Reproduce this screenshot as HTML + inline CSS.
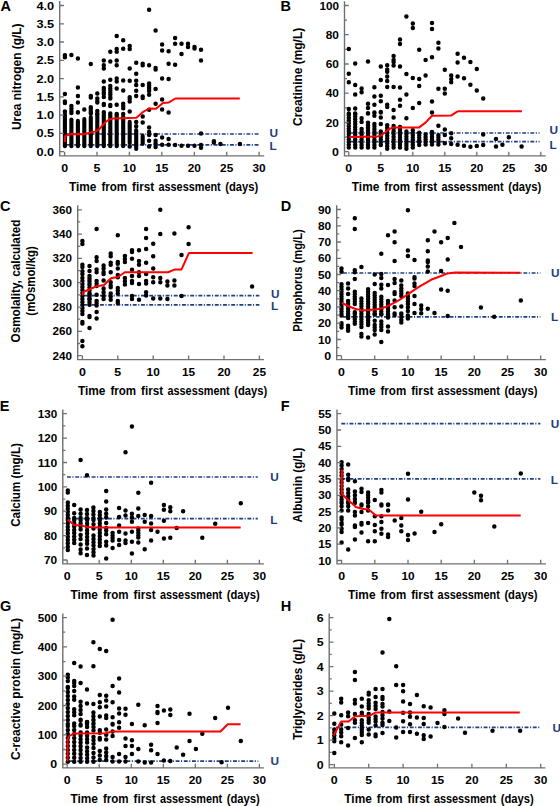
<!DOCTYPE html><html><head><meta charset="utf-8"><style>html,body{margin:0;padding:0;background:#fff;}svg{display:block;}</style></head><body>
<svg width="560" height="806" viewBox="0 0 560 806" font-family='"Liberation Sans", sans-serif'>
<rect width="560" height="806" fill="#fff"/>
<g><line x1="66.0" y1="134.0" x2="259.6" y2="134.0" stroke="#1f3f85" stroke-width="1.7" stroke-dasharray="3.9 1.5 1.1 1.7"/><text x="269.6" y="137.4" font-size="11.8" font-weight="bold" fill="#1d3c7c">U</text><line x1="66.0" y1="144.9" x2="259.6" y2="144.9" stroke="#1f3f85" stroke-width="1.7" stroke-dasharray="3.9 1.5 1.1 1.7"/><text x="269.6" y="150.0" font-size="11.8" font-weight="bold" fill="#1d3c7c">L</text><line x1="64.9" y1="114.0" x2="64.9" y2="146.2" stroke="#000" stroke-width="4.1" stroke-linecap="round"/><line x1="71.4" y1="119.6" x2="71.4" y2="146.2" stroke="#000" stroke-width="4.1" stroke-linecap="round"/><line x1="77.9" y1="120.9" x2="77.9" y2="146.2" stroke="#000" stroke-width="4.1" stroke-linecap="round"/><line x1="84.3" y1="119.0" x2="84.3" y2="146.2" stroke="#000" stroke-width="4.1" stroke-linecap="round"/><line x1="90.8" y1="117.1" x2="90.8" y2="146.2" stroke="#000" stroke-width="4.1" stroke-linecap="round"/><line x1="97.3" y1="114.0" x2="97.3" y2="146.2" stroke="#000" stroke-width="4.1" stroke-linecap="round"/><line x1="103.8" y1="114.0" x2="103.8" y2="146.2" stroke="#000" stroke-width="4.1" stroke-linecap="round"/><line x1="110.3" y1="115.2" x2="110.3" y2="146.2" stroke="#000" stroke-width="4.1" stroke-linecap="round"/><line x1="116.7" y1="115.2" x2="116.7" y2="146.2" stroke="#000" stroke-width="4.1" stroke-linecap="round"/><line x1="123.2" y1="116.5" x2="123.2" y2="146.2" stroke="#000" stroke-width="4.1" stroke-linecap="round"/><line x1="129.7" y1="121.9" x2="129.7" y2="143.1" stroke="#000" stroke-width="4.1" stroke-linecap="round"/><line x1="136.2" y1="130.0" x2="136.2" y2="149.0" stroke="#000" stroke-width="4.1" stroke-linecap="round"/><line x1="142.7" y1="135.9" x2="142.7" y2="143.8" stroke="#000" stroke-width="4.1" stroke-linecap="round"/><path d="M64.9 55.3h0M64.9 57.2h0M71.4 54.9h0M77.9 58.5h0M90.8 64.1h0M103.8 60.6h0M103.8 65.2h0M103.8 68.4h0M110.3 51.8h0M110.3 61.5h0M116.7 36.0h0M116.7 49.1h0M116.7 51.8h0M116.7 60.4h0M116.7 65.2h0M123.2 40.3h0M123.2 48.8h0M129.7 45.9h0M129.7 49.1h0M129.7 68.4h0M136.2 62.8h0M136.2 73.7h0M142.7 63.8h0M142.7 65.2h0M149.1 9.8h0M149.1 65.2h0M155.6 30.6h0M155.6 67.9h0M155.6 69.4h0M162.1 44.6h0M162.1 50.6h0M168.6 51.2h0M168.6 63.8h0M175.1 38.1h0M175.1 43.7h0M175.1 64.7h0M181.5 43.7h0M181.5 54.0h0M188.0 43.7h0M188.0 46.9h0M194.5 46.9h0M194.5 48.4h0M201.0 49.7h0M201.0 60.4h0M64.9 94.1h0M64.9 101.6h0M64.9 102.9h0M64.9 111.6h0M71.4 106.0h0M71.4 108.5h0M71.4 111.0h0M71.4 112.9h0M77.9 87.5h0M77.9 96.0h0M77.9 102.5h0M77.9 112.2h0M84.3 109.5h0M90.8 96.0h0M90.8 97.5h0M90.8 107.2h0M90.8 108.8h0M90.8 111.0h0M90.8 113.5h0M97.3 93.5h0M97.3 98.5h0M97.3 101.0h0M97.3 102.5h0M97.3 111.0h0M97.3 113.5h0M103.8 81.6h0M103.8 87.9h0M103.8 90.0h0M103.8 92.2h0M103.8 94.1h0M103.8 97.0h0M103.8 104.1h0M103.8 105.0h0M103.8 112.2h0M110.3 79.8h0M110.3 86.0h0M110.3 88.5h0M110.3 90.8h0M110.3 92.9h0M110.3 94.8h0M110.3 97.2h0M110.3 98.5h0M110.3 105.0h0M110.3 106.0h0M110.3 113.5h0M116.7 78.5h0M116.7 81.6h0M116.7 88.5h0M116.7 104.8h0M116.7 114.1h0M123.2 80.4h0M123.2 90.4h0M123.2 103.8h0M123.2 106.0h0M123.2 108.2h0M123.2 114.1h0M77.9 112.6h0M90.8 112.6h0M129.7 80.8h0M129.7 97.2h0M129.7 99.1h0M129.7 101.6h0M129.7 111.6h0M136.2 80.8h0M136.2 85.0h0M136.2 90.8h0M136.2 96.0h0M142.7 85.0h0M142.7 96.6h0M142.7 97.9h0M149.1 83.5h0M149.1 85.4h0M149.1 87.2h0M149.1 89.1h0M149.1 91.0h0M149.1 94.8h0M149.1 109.8h0M155.6 89.1h0M155.6 103.8h0M162.1 78.5h0M162.1 99.5h0M162.1 109.5h0M168.6 79.1h0M168.6 112.5h0M129.7 111.6h0M129.7 146.6h0M136.2 121.9h0M136.2 126.2h0M142.7 116.4h0M142.7 122.6h0M149.1 127.6h0M149.1 132.0h0M149.1 135.1h0M149.1 140.8h0M149.1 146.4h0M155.6 135.1h0M155.6 140.8h0M155.6 143.2h0M155.6 147.0h0M162.1 137.6h0M162.1 144.8h0M168.6 138.9h0M168.6 144.8h0M175.1 145.1h0M181.5 145.8h0M188.0 145.8h0M194.5 145.8h0M201.0 133.5h0M201.0 145.0h0M201.0 147.8h0M213.9 141.2h0M213.9 142.5h0M220.4 144.0h0M239.9 144.0h0" stroke="#000" stroke-width="4.5" stroke-linecap="round" fill="none"/><polyline points="64.9,142.0 64.9,136.5 66.5,135.5 71.5,134.0 83.5,134.2 88.0,133.2 95.5,131.4 99.0,129.5 105.0,122.5 109.2,119.5 113.0,118.6 136.4,117.8 142.4,112.4 149.1,108.5 156.0,108.8 162.9,102.9 168.5,102.6 175.4,98.5 239.8,98.5" fill="none" stroke="#ff0000" stroke-width="2.0" stroke-linejoin="round"/><path d="M59.7 1.0V155.9H264.2" fill="none" stroke="#707070" stroke-width="1.4"/><path d="M59.7 151.7h4.2M59.7 133.4h4.2M59.7 115.1h4.2M59.7 96.9h4.2M59.7 78.6h4.2M59.7 60.3h4.2M59.7 42.0h4.2M59.7 23.8h4.2M59.7 5.5h4.2M64.6 155.9v-4.2M97.0 155.9v-4.2M129.4 155.9v-4.2M161.8 155.9v-4.2M194.3 155.9v-4.2M226.7 155.9v-4.2M259.1 155.9v-4.2" stroke="#707070" stroke-width="1.3" fill="none"/><text x="54.1" y="155.7" font-size="11.2" font-weight="bold" text-anchor="end" textLength="17.7" lengthAdjust="spacingAndGlyphs">0.0</text><text x="54.1" y="137.4" font-size="11.2" font-weight="bold" text-anchor="end" textLength="17.7" lengthAdjust="spacingAndGlyphs">0.5</text><text x="54.1" y="119.1" font-size="11.2" font-weight="bold" text-anchor="end" textLength="17.7" lengthAdjust="spacingAndGlyphs">1.0</text><text x="54.1" y="100.9" font-size="11.2" font-weight="bold" text-anchor="end" textLength="17.7" lengthAdjust="spacingAndGlyphs">1.5</text><text x="54.1" y="82.6" font-size="11.2" font-weight="bold" text-anchor="end" textLength="17.7" lengthAdjust="spacingAndGlyphs">2.0</text><text x="54.1" y="64.3" font-size="11.2" font-weight="bold" text-anchor="end" textLength="17.7" lengthAdjust="spacingAndGlyphs">2.5</text><text x="54.1" y="46.0" font-size="11.2" font-weight="bold" text-anchor="end" textLength="17.7" lengthAdjust="spacingAndGlyphs">3.0</text><text x="54.1" y="27.8" font-size="11.2" font-weight="bold" text-anchor="end" textLength="17.7" lengthAdjust="spacingAndGlyphs">3.5</text><text x="54.1" y="9.5" font-size="11.2" font-weight="bold" text-anchor="end" textLength="17.7" lengthAdjust="spacingAndGlyphs">4.0</text><text x="64.6" y="172.1" font-size="11.2" font-weight="bold" text-anchor="middle" textLength="6.9" lengthAdjust="spacingAndGlyphs">0</text><text x="97.0" y="172.1" font-size="11.2" font-weight="bold" text-anchor="middle" textLength="6.9" lengthAdjust="spacingAndGlyphs">5</text><text x="129.4" y="172.1" font-size="11.2" font-weight="bold" text-anchor="middle" textLength="13.2" lengthAdjust="spacingAndGlyphs">10</text><text x="161.8" y="172.1" font-size="11.2" font-weight="bold" text-anchor="middle" textLength="13.2" lengthAdjust="spacingAndGlyphs">15</text><text x="194.3" y="172.1" font-size="11.2" font-weight="bold" text-anchor="middle" textLength="13.2" lengthAdjust="spacingAndGlyphs">20</text><text x="226.7" y="172.1" font-size="11.2" font-weight="bold" text-anchor="middle" textLength="13.2" lengthAdjust="spacingAndGlyphs">25</text><text x="259.1" y="172.1" font-size="11.2" font-weight="bold" text-anchor="middle" textLength="13.2" lengthAdjust="spacingAndGlyphs">30</text><text x="68.90" y="191.3" font-size="12" font-weight="bold" textLength="27.50" lengthAdjust="spacingAndGlyphs">Time</text><text x="101.40" y="191.3" font-size="12" font-weight="bold" textLength="25.70" lengthAdjust="spacingAndGlyphs">from</text><text x="132.10" y="191.3" font-size="12" font-weight="bold" textLength="22.10" lengthAdjust="spacingAndGlyphs">first</text><text x="158.50" y="191.3" font-size="12" font-weight="bold" textLength="62.20" lengthAdjust="spacingAndGlyphs">assessment</text><text x="225.30" y="191.3" font-size="12" font-weight="bold" textLength="33.00" lengthAdjust="spacingAndGlyphs">(days)</text><text transform="translate(20.9 76.7) rotate(-90)" font-size="12" font-weight="bold" text-anchor="middle" textLength="106.6" lengthAdjust="spacingAndGlyphs">Urea nitrogen (g/L)</text><text x="0.4" y="10.5" font-size="14.5" font-weight="bold">A</text></g>
<g><line x1="350.0" y1="133.0" x2="539.6" y2="133.0" stroke="#1f3f85" stroke-width="1.7" stroke-dasharray="3.9 1.5 1.1 1.7"/><text x="549.4" y="133.8" font-size="11.8" font-weight="bold" fill="#1d3c7c">U</text><line x1="350.0" y1="141.7" x2="539.6" y2="141.7" stroke="#1f3f85" stroke-width="1.7" stroke-dasharray="3.9 1.5 1.1 1.7"/><text x="549.4" y="149.3" font-size="11.8" font-weight="bold" fill="#1d3c7c">L</text><path d="M348.8 115.2h0M348.8 117.9h0M348.8 120.6h0M348.8 123.3h0M348.8 126.0h0M348.8 128.7h0M348.8 131.3h0M348.8 134.0h0M348.8 136.7h0M348.8 139.4h0M348.8 142.1h0M348.8 144.8h0M348.8 147.5h0M355.2 114.0h0M355.2 116.6h0M355.2 119.2h0M355.2 121.7h0M355.2 124.3h0M355.2 126.9h0M355.2 129.5h0M355.2 132.0h0M355.2 134.6h0M355.2 137.2h0M355.2 139.8h0M355.2 142.3h0M355.2 144.9h0M355.2 147.5h0M361.6 129.0h0M361.6 131.6h0M361.6 134.3h0M361.6 136.9h0M361.6 139.6h0M361.6 142.2h0M361.6 144.9h0M361.6 147.5h0M368.0 122.8h0M368.0 125.3h0M368.0 127.7h0M368.0 130.2h0M368.0 132.7h0M368.0 135.2h0M368.0 137.6h0M368.0 140.1h0M368.0 142.6h0M368.0 145.0h0M368.0 147.5h0M374.4 124.0h0M374.4 126.6h0M374.4 129.2h0M374.4 131.8h0M374.4 134.4h0M374.4 137.1h0M374.4 139.7h0M374.4 142.3h0M374.4 144.9h0M374.4 147.5h0M380.8 131.5h0M380.8 134.2h0M380.8 136.9h0M380.8 139.6h0M380.8 142.3h0M380.8 145.0h0M387.2 125.2h0M387.2 127.8h0M387.2 130.4h0M387.2 133.1h0M387.2 135.7h0M387.2 138.3h0M387.2 140.9h0M387.2 143.6h0M387.2 146.2h0M387.2 148.8h0M393.6 125.9h0M393.6 128.6h0M393.6 131.3h0M393.6 134.0h0M393.6 136.7h0M393.6 139.4h0M393.6 142.1h0M393.6 144.8h0M393.6 147.5h0M400.0 127.1h0M400.0 129.7h0M400.0 132.2h0M400.0 134.8h0M400.0 137.3h0M400.0 139.8h0M400.0 142.4h0M400.0 144.9h0M400.0 147.5h0M406.4 131.5h0M406.4 134.0h0M406.4 136.4h0M406.4 138.9h0M406.4 141.4h0M406.4 143.9h0M406.4 146.3h0M406.4 148.8h0M412.8 130.2h0M412.8 132.7h0M412.8 135.1h0M412.8 137.6h0M412.8 140.1h0M412.8 142.6h0M412.8 145.0h0M412.8 147.5h0M412.8 130.2h0M412.8 132.7h0M412.8 135.1h0M412.8 137.6h0M412.8 140.1h0M412.8 142.5h0M412.8 145.0h0M419.2 132.8h0M419.2 135.2h0M419.2 137.7h0M419.2 140.1h0M419.2 142.6h0M419.2 145.0h0M425.6 134.6h0M425.6 137.1h0M425.6 139.5h0M425.6 141.9h0M425.6 144.4h0M432.0 132.1h0M432.0 134.6h0M432.0 137.0h0M432.0 139.5h0M432.0 141.9h0M432.0 144.4h0M438.4 135.2h0M438.4 137.5h0M438.4 139.8h0M438.4 142.1h0M438.4 144.4h0" stroke="#000" stroke-width="4.5" stroke-linecap="round" fill="none"/><path d="M348.8 49.1h0M348.8 73.7h0M355.2 63.4h0M368.0 61.5h0M380.8 66.6h0M387.2 65.2h0M387.2 69.8h0M387.2 71.8h0M393.6 55.9h0M393.6 60.0h0M393.6 61.9h0M393.6 65.6h0M400.0 39.4h0M400.0 44.1h0M400.0 66.6h0M406.4 16.5h0M406.4 74.1h0M412.8 23.4h0M412.8 28.1h0M419.2 49.7h0M425.6 60.0h0M425.6 75.4h0M432.0 22.9h0M432.0 29.1h0M432.0 57.2h0M438.4 42.8h0M438.4 48.4h0M444.8 69.8h0M451.2 75.4h0M457.6 53.8h0M457.6 62.4h0M464.0 57.8h0M470.4 61.9h0M476.8 69.0h0M348.8 82.2h0M348.8 109.1h0M348.8 113.5h0M355.2 85.0h0M355.2 94.5h0M355.2 108.5h0M355.2 113.5h0M361.6 88.5h0M361.6 92.2h0M368.0 103.8h0M368.0 107.9h0M368.0 113.5h0M374.4 87.2h0M374.4 96.6h0M374.4 104.8h0M374.4 112.9h0M380.8 80.0h0M380.8 95.8h0M380.8 101.2h0M380.8 112.5h0M387.2 76.6h0M387.2 81.0h0M387.2 87.0h0M387.2 104.8h0M387.2 107.0h0M393.6 87.0h0M393.6 110.0h0M400.0 87.5h0M400.0 99.8h0M400.0 105.8h0M406.4 94.5h0M412.8 77.9h0M412.8 107.9h0M361.6 118.2h0M361.6 122.0h0M368.0 113.2h0M374.4 112.6h0M374.4 115.8h0M380.8 112.0h0M380.8 117.6h0M380.8 123.9h0M393.6 117.6h0M406.4 118.2h0M419.2 79.1h0M419.2 86.0h0M419.2 102.9h0M432.0 101.6h0M432.0 112.5h0M438.4 88.8h0M444.8 88.8h0M444.8 93.5h0M451.2 79.1h0M451.2 82.2h0M457.6 76.6h0M464.0 78.2h0M470.4 84.8h0M476.8 90.4h0M483.2 98.5h0M438.4 125.8h0M444.8 129.5h0M444.8 135.1h0M444.8 143.2h0M451.2 133.2h0M451.2 138.2h0M451.2 143.9h0M457.6 144.8h0M464.0 145.8h0M470.4 146.8h0M476.8 146.0h0M483.2 134.4h0M483.2 145.0h0M496.0 139.0h0M496.0 146.5h0M502.4 144.8h0M508.8 137.2h0M521.6 146.5h0" stroke="#000" stroke-width="4.5" stroke-linecap="round" fill="none"/><polyline points="349.4,137.0 377.5,136.4 381.0,135.5 385.0,132.5 389.0,129.0 393.8,127.4 419.2,127.4 425.5,122.6 432.0,115.8 451.0,115.6 456.8,111.8 458.0,111.3 521.9,111.3" fill="none" stroke="#ff0000" stroke-width="2.0" stroke-linejoin="round"/><path d="M344.5 1.3V155.9H545.7" fill="none" stroke="#707070" stroke-width="1.4"/><path d="M344.5 151.7h4.2M344.5 122.5h4.2M344.5 93.2h4.2M344.5 64.0h4.2M344.5 34.7h4.2M344.5 5.5h4.2M344.5 137.1h2.5M344.5 107.8h2.5M344.5 78.6h2.5M344.5 49.4h2.5M344.5 20.1h2.5M348.8 155.9v-4.2M380.8 155.9v-4.2M412.8 155.9v-4.2M444.8 155.9v-4.2M476.8 155.9v-4.2M508.8 155.9v-4.2M540.8 155.9v-4.2" stroke="#707070" stroke-width="1.3" fill="none"/><text x="338.9" y="155.7" font-size="11.2" font-weight="bold" text-anchor="end" textLength="6.9" lengthAdjust="spacingAndGlyphs">0</text><text x="338.9" y="126.5" font-size="11.2" font-weight="bold" text-anchor="end" textLength="13.2" lengthAdjust="spacingAndGlyphs">20</text><text x="338.9" y="97.2" font-size="11.2" font-weight="bold" text-anchor="end" textLength="13.2" lengthAdjust="spacingAndGlyphs">40</text><text x="338.9" y="68.0" font-size="11.2" font-weight="bold" text-anchor="end" textLength="13.2" lengthAdjust="spacingAndGlyphs">60</text><text x="338.9" y="38.7" font-size="11.2" font-weight="bold" text-anchor="end" textLength="13.2" lengthAdjust="spacingAndGlyphs">80</text><text x="338.9" y="9.5" font-size="11.2" font-weight="bold" text-anchor="end" textLength="19.5" lengthAdjust="spacingAndGlyphs">100</text><text x="348.8" y="172.1" font-size="11.2" font-weight="bold" text-anchor="middle" textLength="6.9" lengthAdjust="spacingAndGlyphs">0</text><text x="380.8" y="172.1" font-size="11.2" font-weight="bold" text-anchor="middle" textLength="6.9" lengthAdjust="spacingAndGlyphs">5</text><text x="412.8" y="172.1" font-size="11.2" font-weight="bold" text-anchor="middle" textLength="13.2" lengthAdjust="spacingAndGlyphs">10</text><text x="444.8" y="172.1" font-size="11.2" font-weight="bold" text-anchor="middle" textLength="13.2" lengthAdjust="spacingAndGlyphs">15</text><text x="476.8" y="172.1" font-size="11.2" font-weight="bold" text-anchor="middle" textLength="13.2" lengthAdjust="spacingAndGlyphs">20</text><text x="508.8" y="172.1" font-size="11.2" font-weight="bold" text-anchor="middle" textLength="13.2" lengthAdjust="spacingAndGlyphs">25</text><text x="540.8" y="172.1" font-size="11.2" font-weight="bold" text-anchor="middle" textLength="13.2" lengthAdjust="spacingAndGlyphs">30</text><text x="351.80" y="191.3" font-size="12" font-weight="bold" textLength="27.50" lengthAdjust="spacingAndGlyphs">Time</text><text x="384.30" y="191.3" font-size="12" font-weight="bold" textLength="25.70" lengthAdjust="spacingAndGlyphs">from</text><text x="415.00" y="191.3" font-size="12" font-weight="bold" textLength="22.10" lengthAdjust="spacingAndGlyphs">first</text><text x="441.40" y="191.3" font-size="12" font-weight="bold" textLength="62.20" lengthAdjust="spacingAndGlyphs">assessment</text><text x="508.20" y="191.3" font-size="12" font-weight="bold" textLength="33.00" lengthAdjust="spacingAndGlyphs">(days)</text><text transform="translate(302.2 76.9) rotate(-90)" font-size="12" font-weight="bold" text-anchor="middle" textLength="98.2" lengthAdjust="spacingAndGlyphs">Creatinine (mg/L)</text><text x="280.4" y="10.5" font-size="14.5" font-weight="bold">B</text></g>
<g><line x1="83.6" y1="295.6" x2="259.4" y2="295.6" stroke="#1f3f85" stroke-width="1.7" stroke-dasharray="3.9 1.5 1.1 1.7"/><text x="271.0" y="298.2" font-size="11.8" font-weight="bold" fill="#1d3c7c">U</text><line x1="83.6" y1="304.8" x2="259.4" y2="304.8" stroke="#1f3f85" stroke-width="1.7" stroke-dasharray="3.9 1.5 1.1 1.7"/><text x="271.0" y="310.3" font-size="11.8" font-weight="bold" fill="#1d3c7c">L</text><path d="M82.4 278.0h0M82.4 281.0h0M82.4 284.0h0M82.4 287.0h0M82.4 290.0h0M82.4 293.0h0M82.4 296.0h0M82.4 299.0h0M82.4 302.0h0M82.4 305.0h0M82.4 308.0h0M82.4 311.0h0M82.4 314.0h0M89.5 278.0h0M89.5 281.0h0M89.5 284.0h0M124.9 278.0h0M124.9 281.3h0M124.9 284.6h0M89.5 276.0h0M89.5 278.9h0M89.5 281.8h0M89.5 284.7h0M89.5 287.6h0M89.5 290.4h0M89.5 293.3h0M89.5 296.2h0M89.5 299.1h0M89.5 302.0h0" stroke="#000" stroke-width="4.5" stroke-linecap="round" fill="none"/><path d="M82.4 240.9h0M82.4 244.1h0M82.4 264.7h0M82.4 267.1h0M82.4 271.2h0M82.4 274.1h0M89.5 266.0h0M89.5 270.9h0M96.6 229.1h0M96.6 257.2h0M96.6 260.9h0M96.6 269.4h0M96.6 272.2h0M103.6 265.6h0M103.6 268.4h0M103.6 272.2h0M103.6 274.1h0M110.7 253.4h0M110.7 256.2h0M110.7 262.8h0M110.7 264.7h0M110.7 272.2h0M117.8 235.2h0M117.8 261.9h0M117.8 263.8h0M117.8 268.4h0M117.8 275.0h0M124.9 255.9h0M124.9 259.1h0M124.9 261.9h0M132.0 250.2h0M132.0 252.1h0M132.0 258.7h0M132.0 269.8h0M139.0 250.2h0M139.0 260.9h0M139.0 264.7h0M139.0 272.2h0M146.1 229.1h0M146.1 237.9h0M146.1 249.1h0M146.1 262.8h0M146.1 274.1h0M153.2 243.7h0M153.2 256.2h0M153.2 268.4h0M160.3 209.8h0M160.3 234.1h0M174.4 233.4h0M181.5 254.9h0M188.6 227.2h0M188.6 244.1h0M89.5 294.8h0M89.5 299.1h0M89.5 304.8h0M89.5 316.0h0M96.6 281.0h0M96.6 283.5h0M96.6 286.0h0M96.6 294.8h0M96.6 301.0h0M96.6 302.9h0M96.6 305.4h0M96.6 312.0h0M103.6 280.4h0M103.6 288.5h0M103.6 292.2h0M103.6 296.0h0M103.6 299.1h0M110.7 282.2h0M110.7 285.4h0M110.7 287.2h0M110.7 293.5h0M110.7 296.6h0M110.7 299.8h0M117.8 277.2h0M117.8 287.9h0M117.8 290.4h0M117.8 293.5h0M117.8 301.0h0M117.8 302.9h0M132.0 276.0h0M132.0 281.0h0M132.0 282.9h0M132.0 296.0h0M132.0 299.1h0M139.0 276.0h0M139.0 284.1h0M139.0 299.8h0M146.1 281.0h0M146.1 283.5h0M146.1 292.2h0M146.1 295.4h0M82.4 322.1h0M82.4 323.4h0M82.4 340.9h0M82.4 346.2h0M89.5 317.1h0M89.5 328.0h0M96.6 318.4h0M153.2 277.2h0M153.2 282.2h0M153.2 298.5h0M160.3 277.9h0M160.3 282.2h0M160.3 298.5h0M167.4 281.6h0M167.4 285.4h0M167.4 299.1h0M174.4 280.4h0M174.4 285.4h0M181.5 296.0h0M252.1 286.4h0" stroke="#000" stroke-width="4.5" stroke-linecap="round" fill="none"/><polyline points="82.8,295.4 82.8,292.2 89.2,289.5 96.8,286.2 104.2,285.0 109.0,280.0 111.8,277.9 118.0,277.0 124.9,272.2 168.0,272.2 174.6,269.6 181.4,269.6 189.0,252.9 252.6,252.9" fill="none" stroke="#ff0000" stroke-width="2.0" stroke-linejoin="round"/><path d="M77.7 205.2V359.6H263.9" fill="none" stroke="#707070" stroke-width="1.4"/><path d="M77.7 355.7h4.2M77.7 331.4h4.2M77.7 307.1h4.2M77.7 282.7h4.2M77.7 258.4h4.2M77.7 234.1h4.2M77.7 209.8h4.2M77.7 343.5h2.5M77.7 319.2h2.5M77.7 294.9h2.5M77.7 270.6h2.5M77.7 246.3h2.5M77.7 221.9h2.5M82.4 359.6v-4.2M117.8 359.6v-4.2M153.2 359.6v-4.2M188.6 359.6v-4.2M224.0 359.6v-4.2M259.4 359.6v-4.2" stroke="#707070" stroke-width="1.3" fill="none"/><text x="72.1" y="359.7" font-size="11.2" font-weight="bold" text-anchor="end" textLength="19.5" lengthAdjust="spacingAndGlyphs">240</text><text x="72.1" y="335.4" font-size="11.2" font-weight="bold" text-anchor="end" textLength="19.5" lengthAdjust="spacingAndGlyphs">260</text><text x="72.1" y="311.1" font-size="11.2" font-weight="bold" text-anchor="end" textLength="19.5" lengthAdjust="spacingAndGlyphs">280</text><text x="72.1" y="286.7" font-size="11.2" font-weight="bold" text-anchor="end" textLength="19.5" lengthAdjust="spacingAndGlyphs">300</text><text x="72.1" y="262.4" font-size="11.2" font-weight="bold" text-anchor="end" textLength="19.5" lengthAdjust="spacingAndGlyphs">320</text><text x="72.1" y="238.1" font-size="11.2" font-weight="bold" text-anchor="end" textLength="19.5" lengthAdjust="spacingAndGlyphs">340</text><text x="72.1" y="213.8" font-size="11.2" font-weight="bold" text-anchor="end" textLength="19.5" lengthAdjust="spacingAndGlyphs">360</text><text x="82.4" y="375.8" font-size="11.2" font-weight="bold" text-anchor="middle" textLength="6.9" lengthAdjust="spacingAndGlyphs">0</text><text x="117.8" y="375.8" font-size="11.2" font-weight="bold" text-anchor="middle" textLength="6.9" lengthAdjust="spacingAndGlyphs">5</text><text x="153.2" y="375.8" font-size="11.2" font-weight="bold" text-anchor="middle" textLength="13.2" lengthAdjust="spacingAndGlyphs">10</text><text x="188.6" y="375.8" font-size="11.2" font-weight="bold" text-anchor="middle" textLength="13.2" lengthAdjust="spacingAndGlyphs">15</text><text x="224.0" y="375.8" font-size="11.2" font-weight="bold" text-anchor="middle" textLength="13.2" lengthAdjust="spacingAndGlyphs">20</text><text x="259.4" y="375.8" font-size="11.2" font-weight="bold" text-anchor="middle" textLength="13.2" lengthAdjust="spacingAndGlyphs">25</text><text x="77.90" y="395.3" font-size="12" font-weight="bold" textLength="27.50" lengthAdjust="spacingAndGlyphs">Time</text><text x="110.40" y="395.3" font-size="12" font-weight="bold" textLength="25.70" lengthAdjust="spacingAndGlyphs">from</text><text x="141.10" y="395.3" font-size="12" font-weight="bold" textLength="22.10" lengthAdjust="spacingAndGlyphs">first</text><text x="167.50" y="395.3" font-size="12" font-weight="bold" textLength="62.20" lengthAdjust="spacingAndGlyphs">assessment</text><text x="234.30" y="395.3" font-size="12" font-weight="bold" textLength="33.00" lengthAdjust="spacingAndGlyphs">(days)</text><text transform="translate(20.3 281.0) rotate(-90)" font-size="12" font-weight="bold" text-anchor="middle" textLength="122.9" lengthAdjust="spacingAndGlyphs">Osmolality, calculated</text><text transform="translate(34.8 281.0) rotate(-90)" font-size="12" font-weight="bold" text-anchor="middle" textLength="69.3" lengthAdjust="spacingAndGlyphs">(mOsmol/kg)</text><text x="0.0" y="210.8" font-size="14.5" font-weight="bold">C</text></g>
<g><line x1="343.0" y1="273.0" x2="540.4" y2="273.0" stroke="#1f3f85" stroke-width="1.7" stroke-dasharray="3.9 1.5 1.1 1.7"/><text x="550.9" y="276.6" font-size="11.8" font-weight="bold" fill="#1d3c7c">U</text><line x1="343.0" y1="316.9" x2="540.4" y2="316.9" stroke="#1f3f85" stroke-width="1.7" stroke-dasharray="3.9 1.5 1.1 1.7"/><text x="550.9" y="321.3" font-size="11.8" font-weight="bold" fill="#1d3c7c">L</text><path d="M341.5 284.2h0M341.5 286.7h0M341.5 289.2h0M341.5 291.6h0M341.5 294.1h0M341.5 296.6h0M341.5 299.1h0M341.5 301.6h0M341.5 304.1h0M341.5 306.6h0M341.5 309.0h0M341.5 311.5h0M341.5 314.0h0M348.1 301.1h0M348.1 303.7h0M348.1 306.3h0M348.1 308.8h0M348.1 311.4h0M348.1 314.0h0M354.8 291.8h0M354.8 294.2h0M354.8 296.7h0M354.8 299.1h0M354.8 301.6h0M354.8 304.0h0M361.4 298.6h0M361.4 301.2h0M361.4 303.7h0M361.4 306.3h0M361.4 308.9h0M361.4 311.4h0M361.4 314.0h0M368.1 289.2h0M368.1 291.7h0M368.1 294.2h0M368.1 296.6h0M368.1 299.1h0M368.1 301.6h0M368.1 304.1h0M368.1 306.6h0M368.1 309.0h0M368.1 311.5h0M368.1 314.0h0M374.7 293.0h0M374.7 295.3h0M374.7 297.7h0M374.7 300.0h0M374.7 302.3h0M374.7 304.7h0M374.7 307.0h0M374.7 309.3h0M374.7 311.7h0M374.7 314.0h0M381.3 296.8h0M381.3 299.3h0M381.3 301.7h0M381.3 304.2h0M381.3 306.6h0M381.3 309.1h0M381.3 311.5h0M381.3 314.0h0M388.0 301.1h0M388.0 303.7h0M388.0 306.3h0M388.0 308.8h0M388.0 311.4h0M388.0 314.0h0M341.5 314.0h0M341.5 315.6h0M348.1 314.0h0M348.1 316.1h0M348.1 318.1h0M354.8 314.0h0M354.8 316.4h0M354.8 318.9h0M354.8 321.4h0M354.8 323.8h0M361.4 314.0h0M361.4 316.6h0M361.4 319.2h0M361.4 321.7h0M361.4 324.3h0M361.4 326.9h0M368.1 314.0h0M368.1 316.2h0M368.1 318.4h0M368.1 320.6h0M368.1 322.8h0M368.1 325.0h0" stroke="#000" stroke-width="4.5" stroke-linecap="round" fill="none"/><path d="M341.5 268.4h0M341.5 271.8h0M354.8 218.2h0M354.8 229.1h0M354.8 270.3h0M354.8 272.2h0M361.4 266.9h0M374.7 274.6h0M381.3 253.8h0M381.3 274.1h0M388.0 235.2h0M394.6 231.5h0M394.6 242.2h0M394.6 260.9h0M407.9 210.3h0M407.9 250.6h0M407.9 255.9h0M414.5 260.0h0M427.8 240.3h0M427.8 251.2h0M427.8 260.4h0M427.8 261.9h0M427.8 266.6h0M427.8 271.6h0M434.5 231.5h0M441.1 242.2h0M441.1 270.9h0M447.7 237.9h0M447.7 259.6h0M454.4 222.9h0M461.0 246.9h0M348.1 283.5h0M348.1 288.5h0M348.1 294.1h0M354.8 279.1h0M354.8 312.2h0M374.7 284.1h0M381.3 277.9h0M381.3 284.8h0M381.3 288.5h0M388.0 285.0h0M394.6 279.1h0M394.6 282.9h0M394.6 292.2h0M394.6 294.1h0M394.6 300.4h0M394.6 307.2h0M394.6 313.5h0M401.3 280.4h0M401.3 285.4h0M401.3 288.5h0M401.3 291.0h0M401.3 293.5h0M401.3 296.0h0M401.3 306.6h0M401.3 313.5h0M407.9 293.5h0M407.9 296.6h0M407.9 299.1h0M407.9 301.6h0M407.9 304.1h0M407.9 307.2h0M407.9 311.0h0M341.5 323.2h0M341.5 325.1h0M341.5 327.6h0M348.1 325.8h0M348.1 328.2h0M348.1 330.8h0M361.4 333.9h0M361.4 336.4h0M368.1 337.6h0M374.7 314.5h0M374.7 320.8h0M374.7 325.1h0M374.7 327.6h0M374.7 330.1h0M374.7 334.5h0M381.3 314.5h0M381.3 321.4h0M381.3 324.5h0M381.3 327.0h0M381.3 330.1h0M381.3 342.0h0M388.0 315.1h0M388.0 317.6h0M388.0 326.4h0M388.0 331.4h0M394.6 315.1h0M401.3 314.5h0M401.3 317.0h0M401.3 320.1h0M401.3 322.6h0M407.9 316.4h0M414.5 277.2h0M414.5 278.5h0M414.5 283.5h0M414.5 286.0h0M414.5 296.0h0M414.5 304.1h0M414.5 312.9h0M421.2 305.4h0M421.2 309.1h0M421.2 313.2h0M427.8 308.8h0M434.5 312.9h0M441.1 289.5h0M447.7 290.8h0M447.7 316.0h0M407.9 315.5h0M407.9 318.6h0M421.2 313.2h0M480.9 307.6h0M494.2 316.8h0M520.8 300.4h0" stroke="#000" stroke-width="4.5" stroke-linecap="round" fill="none"/><polyline points="341.8,302.9 348.0,306.0 354.9,308.8 361.8,310.4 369.2,310.0 375.5,309.5 383.0,307.9 389.2,305.4 395.5,302.2 401.8,298.5 408.0,294.1 418.5,287.2 431.0,279.8 441.0,276.0 447.5,273.4 455.0,272.6 520.4,272.7" fill="none" stroke="#ff0000" stroke-width="2.0" stroke-linejoin="round"/><path d="M336.7 205.2V359.6H545.9" fill="none" stroke="#707070" stroke-width="1.4"/><path d="M336.7 355.7h4.2M336.7 339.5h4.2M336.7 323.2h4.2M336.7 307.0h4.2M336.7 290.7h4.2M336.7 274.5h4.2M336.7 258.3h4.2M336.7 242.0h4.2M336.7 225.8h4.2M336.7 209.5h4.2M336.7 347.6h2.5M336.7 331.3h2.5M336.7 315.1h2.5M336.7 298.9h2.5M336.7 282.6h2.5M336.7 266.4h2.5M336.7 250.1h2.5M336.7 233.9h2.5M336.7 217.7h2.5M341.5 359.6v-4.2M374.7 359.6v-4.2M407.9 359.6v-4.2M441.1 359.6v-4.2M474.3 359.6v-4.2M507.5 359.6v-4.2M540.7 359.6v-4.2" stroke="#707070" stroke-width="1.3" fill="none"/><text x="331.1" y="359.7" font-size="11.2" font-weight="bold" text-anchor="end" textLength="6.9" lengthAdjust="spacingAndGlyphs">0</text><text x="331.1" y="343.5" font-size="11.2" font-weight="bold" text-anchor="end" textLength="13.2" lengthAdjust="spacingAndGlyphs">10</text><text x="331.1" y="327.2" font-size="11.2" font-weight="bold" text-anchor="end" textLength="13.2" lengthAdjust="spacingAndGlyphs">20</text><text x="331.1" y="311.0" font-size="11.2" font-weight="bold" text-anchor="end" textLength="13.2" lengthAdjust="spacingAndGlyphs">30</text><text x="331.1" y="294.7" font-size="11.2" font-weight="bold" text-anchor="end" textLength="13.2" lengthAdjust="spacingAndGlyphs">40</text><text x="331.1" y="278.5" font-size="11.2" font-weight="bold" text-anchor="end" textLength="13.2" lengthAdjust="spacingAndGlyphs">50</text><text x="331.1" y="262.3" font-size="11.2" font-weight="bold" text-anchor="end" textLength="13.2" lengthAdjust="spacingAndGlyphs">60</text><text x="331.1" y="246.0" font-size="11.2" font-weight="bold" text-anchor="end" textLength="13.2" lengthAdjust="spacingAndGlyphs">70</text><text x="331.1" y="229.8" font-size="11.2" font-weight="bold" text-anchor="end" textLength="13.2" lengthAdjust="spacingAndGlyphs">80</text><text x="331.1" y="213.5" font-size="11.2" font-weight="bold" text-anchor="end" textLength="13.2" lengthAdjust="spacingAndGlyphs">90</text><text x="341.5" y="375.8" font-size="11.2" font-weight="bold" text-anchor="middle" textLength="6.9" lengthAdjust="spacingAndGlyphs">0</text><text x="374.7" y="375.8" font-size="11.2" font-weight="bold" text-anchor="middle" textLength="6.9" lengthAdjust="spacingAndGlyphs">5</text><text x="407.9" y="375.8" font-size="11.2" font-weight="bold" text-anchor="middle" textLength="13.2" lengthAdjust="spacingAndGlyphs">10</text><text x="441.1" y="375.8" font-size="11.2" font-weight="bold" text-anchor="middle" textLength="13.2" lengthAdjust="spacingAndGlyphs">15</text><text x="474.3" y="375.8" font-size="11.2" font-weight="bold" text-anchor="middle" textLength="13.2" lengthAdjust="spacingAndGlyphs">20</text><text x="507.5" y="375.8" font-size="11.2" font-weight="bold" text-anchor="middle" textLength="13.2" lengthAdjust="spacingAndGlyphs">25</text><text x="540.7" y="375.8" font-size="11.2" font-weight="bold" text-anchor="middle" textLength="13.2" lengthAdjust="spacingAndGlyphs">30</text><text x="348.00" y="395.3" font-size="12" font-weight="bold" textLength="27.50" lengthAdjust="spacingAndGlyphs">Time</text><text x="380.50" y="395.3" font-size="12" font-weight="bold" textLength="25.70" lengthAdjust="spacingAndGlyphs">from</text><text x="411.20" y="395.3" font-size="12" font-weight="bold" textLength="22.10" lengthAdjust="spacingAndGlyphs">first</text><text x="437.60" y="395.3" font-size="12" font-weight="bold" textLength="62.20" lengthAdjust="spacingAndGlyphs">assessment</text><text x="504.40" y="395.3" font-size="12" font-weight="bold" textLength="33.00" lengthAdjust="spacingAndGlyphs">(days)</text><text transform="translate(301.5 280.5) rotate(-90)" font-size="12" font-weight="bold" text-anchor="middle" textLength="102.5" lengthAdjust="spacingAndGlyphs">Phosphorus (mg/L)</text><text x="280.7" y="210.8" font-size="14.5" font-weight="bold">D</text></g>
<g><line x1="67.0" y1="477.0" x2="257.8" y2="477.0" stroke="#1f3f85" stroke-width="1.7" stroke-dasharray="3.9 1.5 1.1 1.7"/><text x="270.2" y="480.8" font-size="11.8" font-weight="bold" fill="#1d3c7c">U</text><line x1="67.0" y1="518.6" x2="257.8" y2="518.6" stroke="#1f3f85" stroke-width="1.7" stroke-dasharray="3.9 1.5 1.1 1.7"/><text x="270.2" y="523.5" font-size="11.8" font-weight="bold" fill="#1d3c7c">L</text><path d="M67.8 502.6h0M67.8 505.7h0M67.8 508.8h0M67.8 511.8h0M67.8 514.9h0M67.8 518.0h0M74.2 513.2h0M74.2 518.0h0M80.6 509.5h0M80.6 513.8h0M80.6 518.0h0M87.0 510.1h0M87.0 514.0h0M87.0 518.0h0M93.4 507.6h0M93.4 511.1h0M93.4 514.5h0M93.4 518.0h0M99.8 512.0h0M99.8 515.0h0M99.8 518.0h0M67.8 520.0h0M67.8 523.3h0M67.8 526.7h0M67.8 530.0h0M67.8 533.3h0M67.8 536.7h0M67.8 540.0h0M67.8 543.3h0M67.8 546.7h0M67.8 550.0h0M74.2 520.0h0M74.2 523.3h0M74.2 526.6h0M74.2 529.9h0M74.2 533.1h0M74.2 536.4h0M74.2 539.7h0M74.2 543.0h0M80.6 520.0h0M80.6 523.2h0M80.6 526.3h0M80.6 529.5h0M80.6 535.0h0M80.6 539.0h0M80.6 549.5h0M80.6 553.3h0M87.1 520.0h0M87.1 523.4h0M87.1 526.8h0M87.1 530.2h0M87.1 533.6h0M87.1 537.0h0M87.1 540.4h0M87.1 543.8h0M93.5 520.0h0M93.5 524.2h0M93.5 528.5h0M93.5 535.5h0M93.5 538.9h0M93.5 542.2h0M93.5 545.5h0M93.5 548.9h0M93.5 552.2h0M93.5 555.6h0M99.8 520.0h0M99.8 523.2h0M99.8 526.5h0M99.8 529.8h0M99.8 533.0h0M99.8 536.2h0M99.8 539.5h0M99.8 542.8h0M99.8 546.0h0" stroke="#000" stroke-width="4.5" stroke-linecap="round" fill="none"/><path d="M80.6 459.9h0M87.0 475.3h0M125.5 452.2h0M131.9 426.6h0M151.1 482.8h0M67.8 490.6h0M67.8 492.5h0M74.2 505.0h0M106.2 491.0h0M106.2 501.5h0M106.2 509.4h0M106.2 513.8h0M106.2 517.5h0M119.1 508.1h0M119.1 516.9h0M125.5 510.6h0M125.5 515.6h0M131.9 513.8h0M131.9 517.5h0M80.6 544.4h0M87.0 548.6h0M87.0 554.9h0M106.2 523.0h0M106.2 528.0h0M106.2 530.5h0M106.2 534.2h0M106.2 541.8h0M106.2 545.5h0M106.2 558.6h0M112.6 533.0h0M112.6 535.5h0M112.6 538.0h0M112.6 540.5h0M112.6 548.0h0M119.1 525.5h0M119.1 531.8h0M119.1 539.9h0M119.1 544.9h0M125.5 533.6h0M125.5 540.5h0M125.5 543.0h0M131.9 521.8h0M131.9 531.8h0M131.9 541.8h0M131.9 553.6h0M138.3 492.8h0M138.3 508.5h0M138.3 516.0h0M144.7 515.0h0M151.1 516.0h0M163.9 505.0h0M163.9 509.8h0M170.3 507.2h0M170.3 511.2h0M183.1 511.2h0M138.3 528.6h0M138.3 530.5h0M138.3 533.0h0M138.3 535.5h0M138.3 537.4h0M138.3 542.4h0M144.7 521.8h0M144.7 549.2h0M151.1 523.6h0M151.1 529.9h0M151.1 540.5h0M157.5 531.8h0M163.9 520.8h0M163.9 538.6h0M170.3 537.8h0M176.7 528.0h0M202.3 537.7h0M215.2 523.8h0M240.8 503.2h0" stroke="#000" stroke-width="4.5" stroke-linecap="round" fill="none"/><polyline points="67.6,519.6 74.2,525.0 80.8,525.4 87.0,526.9 97.0,527.4 240.7,527.4" fill="none" stroke="#ff0000" stroke-width="2.0" stroke-linejoin="round"/><path d="M62.8 409.4V563.9H263.9" fill="none" stroke="#707070" stroke-width="1.4"/><path d="M62.8 560.0h4.2M62.8 535.6h4.2M62.8 511.2h4.2M62.8 486.9h4.2M62.8 462.5h4.2M62.8 438.1h4.2M62.8 413.7h4.2M62.8 547.8h2.5M62.8 523.4h2.5M62.8 499.1h2.5M62.8 474.7h2.5M62.8 450.3h2.5M62.8 425.9h2.5M67.2 563.9v-4.2M99.2 563.9v-4.2M131.3 563.9v-4.2M163.3 563.9v-4.2M195.3 563.9v-4.2M227.4 563.9v-4.2M259.4 563.9v-4.2" stroke="#707070" stroke-width="1.3" fill="none"/><text x="57.2" y="564.0" font-size="11.2" font-weight="bold" text-anchor="end" textLength="13.2" lengthAdjust="spacingAndGlyphs">70</text><text x="57.2" y="539.6" font-size="11.2" font-weight="bold" text-anchor="end" textLength="13.2" lengthAdjust="spacingAndGlyphs">80</text><text x="57.2" y="515.2" font-size="11.2" font-weight="bold" text-anchor="end" textLength="13.2" lengthAdjust="spacingAndGlyphs">90</text><text x="57.2" y="490.9" font-size="11.2" font-weight="bold" text-anchor="end" textLength="19.5" lengthAdjust="spacingAndGlyphs">100</text><text x="57.2" y="466.5" font-size="11.2" font-weight="bold" text-anchor="end" textLength="19.5" lengthAdjust="spacingAndGlyphs">110</text><text x="57.2" y="442.1" font-size="11.2" font-weight="bold" text-anchor="end" textLength="19.5" lengthAdjust="spacingAndGlyphs">120</text><text x="57.2" y="417.7" font-size="11.2" font-weight="bold" text-anchor="end" textLength="19.5" lengthAdjust="spacingAndGlyphs">130</text><text x="67.2" y="580.1" font-size="11.2" font-weight="bold" text-anchor="middle" textLength="6.9" lengthAdjust="spacingAndGlyphs">0</text><text x="99.2" y="580.1" font-size="11.2" font-weight="bold" text-anchor="middle" textLength="6.9" lengthAdjust="spacingAndGlyphs">5</text><text x="131.3" y="580.1" font-size="11.2" font-weight="bold" text-anchor="middle" textLength="13.2" lengthAdjust="spacingAndGlyphs">10</text><text x="163.3" y="580.1" font-size="11.2" font-weight="bold" text-anchor="middle" textLength="13.2" lengthAdjust="spacingAndGlyphs">15</text><text x="195.3" y="580.1" font-size="11.2" font-weight="bold" text-anchor="middle" textLength="13.2" lengthAdjust="spacingAndGlyphs">20</text><text x="227.4" y="580.1" font-size="11.2" font-weight="bold" text-anchor="middle" textLength="13.2" lengthAdjust="spacingAndGlyphs">25</text><text x="259.4" y="580.1" font-size="11.2" font-weight="bold" text-anchor="middle" textLength="13.2" lengthAdjust="spacingAndGlyphs">30</text><text x="70.40" y="599.3" font-size="12" font-weight="bold" textLength="27.50" lengthAdjust="spacingAndGlyphs">Time</text><text x="102.90" y="599.3" font-size="12" font-weight="bold" textLength="25.70" lengthAdjust="spacingAndGlyphs">from</text><text x="133.60" y="599.3" font-size="12" font-weight="bold" textLength="22.10" lengthAdjust="spacingAndGlyphs">first</text><text x="160.00" y="599.3" font-size="12" font-weight="bold" textLength="62.20" lengthAdjust="spacingAndGlyphs">assessment</text><text x="226.80" y="599.3" font-size="12" font-weight="bold" textLength="33.00" lengthAdjust="spacingAndGlyphs">(days)</text><text transform="translate(20.3 485.0) rotate(-90)" font-size="12" font-weight="bold" text-anchor="middle" textLength="83.6" lengthAdjust="spacingAndGlyphs">Calcium (mg/L)</text><text x="-0.2" y="410.8" font-size="14.5" font-weight="bold">E</text></g>
<g><line x1="341.3" y1="423.6" x2="540.4" y2="423.6" stroke="#1f3f85" stroke-width="1.7" stroke-dasharray="3.9 1.5 1.1 1.7"/><text x="550.8" y="427.6" font-size="11.8" font-weight="bold" fill="#1d3c7c">U</text><line x1="341.3" y1="478.8" x2="540.4" y2="478.8" stroke="#1f3f85" stroke-width="1.7" stroke-dasharray="3.9 1.5 1.1 1.7"/><text x="550.8" y="483.8" font-size="11.8" font-weight="bold" fill="#1d3c7c">L</text><path d="M341.6 462.2h0M341.6 465.6h0M341.6 469.0h0M341.6 472.4h0M341.6 475.8h0M341.6 479.2h0M341.6 482.6h0M341.6 486.0h0M341.6 489.4h0M341.6 492.8h0M341.6 496.2h0M341.6 499.6h0M341.6 503.0h0M348.2 489.5h0M348.2 492.9h0M348.2 496.2h0M348.2 499.6h0M348.2 503.0h0M354.9 491.4h0M354.9 495.3h0M354.9 499.1h0M354.9 503.0h0M341.6 502.0h0M341.6 506.2h0M341.6 510.5h0M348.2 502.0h0M348.2 506.2h0M348.2 510.5h0M354.9 502.0h0M354.9 503.0h0M368.1 502.0h0M368.1 506.2h0M368.1 510.5h0" stroke="#000" stroke-width="4.5" stroke-linecap="round" fill="none"/><path d="M348.2 464.4h0M348.2 474.8h0M348.2 478.8h0M348.2 480.0h0M354.9 481.2h0M361.5 488.8h0M361.5 491.9h0M361.5 504.4h0M368.1 492.5h0M368.1 495.0h0M368.1 497.5h0M368.1 500.6h0M368.1 502.5h0M374.8 500.0h0M381.4 490.0h0M381.4 492.5h0M381.4 504.4h0M388.1 504.4h0M408.0 473.8h0M408.0 499.4h0M341.6 517.5h0M341.6 519.4h0M341.6 523.1h0M341.6 524.4h0M341.6 528.8h0M341.6 531.9h0M341.6 542.5h0M348.2 549.4h0M354.9 511.9h0M354.9 515.6h0M354.9 525.6h0M354.9 526.9h0M354.9 539.4h0M361.5 505.6h0M361.5 511.9h0M361.5 523.1h0M361.5 524.4h0M361.5 532.5h0M368.1 523.1h0M368.1 541.2h0M374.8 516.2h0M374.8 525.0h0M374.8 531.2h0M374.8 541.2h0M381.4 505.6h0M381.4 516.2h0M381.4 521.9h0M381.4 528.8h0M381.4 533.8h0M388.1 505.0h0M388.1 510.6h0M388.1 534.4h0M388.1 536.9h0M394.7 520.6h0M401.3 518.1h0M401.3 525.6h0M401.3 531.2h0M408.0 535.0h0M408.0 540.0h0M421.2 511.7h0M441.2 524.3h0M434.5 532.1h0M414.6 533.6h0M474.3 492.5h0M481.0 495.7h0M481.0 500.2h0M494.3 526.6h0M520.8 473.6h0" stroke="#000" stroke-width="4.5" stroke-linecap="round" fill="none"/><polyline points="341.8,469.4 341.8,493.8 347.0,499.0 353.2,504.4 355.8,507.0 362.0,508.8 367.6,509.4 370.8,511.2 375.8,515.4 520.7,515.4" fill="none" stroke="#ff0000" stroke-width="2.0" stroke-linejoin="round"/><path d="M337.0 409.4V563.9H545.9" fill="none" stroke="#707070" stroke-width="1.4"/><path d="M337.0 560.5h4.2M337.0 544.2h4.2M337.0 527.9h4.2M337.0 511.6h4.2M337.0 495.3h4.2M337.0 478.9h4.2M337.0 462.6h4.2M337.0 446.3h4.2M337.0 430.0h4.2M337.0 413.7h4.2M341.6 563.9v-4.2M374.8 563.9v-4.2M408.0 563.9v-4.2M441.2 563.9v-4.2M474.3 563.9v-4.2M507.5 563.9v-4.2M540.7 563.9v-4.2" stroke="#707070" stroke-width="1.3" fill="none"/><text x="331.4" y="564.5" font-size="11.2" font-weight="bold" text-anchor="end" textLength="13.2" lengthAdjust="spacingAndGlyphs">10</text><text x="331.4" y="548.2" font-size="11.2" font-weight="bold" text-anchor="end" textLength="13.2" lengthAdjust="spacingAndGlyphs">15</text><text x="331.4" y="531.9" font-size="11.2" font-weight="bold" text-anchor="end" textLength="13.2" lengthAdjust="spacingAndGlyphs">20</text><text x="331.4" y="515.6" font-size="11.2" font-weight="bold" text-anchor="end" textLength="13.2" lengthAdjust="spacingAndGlyphs">25</text><text x="331.4" y="499.3" font-size="11.2" font-weight="bold" text-anchor="end" textLength="13.2" lengthAdjust="spacingAndGlyphs">30</text><text x="331.4" y="482.9" font-size="11.2" font-weight="bold" text-anchor="end" textLength="13.2" lengthAdjust="spacingAndGlyphs">35</text><text x="331.4" y="466.6" font-size="11.2" font-weight="bold" text-anchor="end" textLength="13.2" lengthAdjust="spacingAndGlyphs">40</text><text x="331.4" y="450.3" font-size="11.2" font-weight="bold" text-anchor="end" textLength="13.2" lengthAdjust="spacingAndGlyphs">45</text><text x="331.4" y="434.0" font-size="11.2" font-weight="bold" text-anchor="end" textLength="13.2" lengthAdjust="spacingAndGlyphs">50</text><text x="331.4" y="417.7" font-size="11.2" font-weight="bold" text-anchor="end" textLength="13.2" lengthAdjust="spacingAndGlyphs">55</text><text x="341.6" y="580.1" font-size="11.2" font-weight="bold" text-anchor="middle" textLength="6.9" lengthAdjust="spacingAndGlyphs">0</text><text x="374.8" y="580.1" font-size="11.2" font-weight="bold" text-anchor="middle" textLength="6.9" lengthAdjust="spacingAndGlyphs">5</text><text x="408.0" y="580.1" font-size="11.2" font-weight="bold" text-anchor="middle" textLength="13.2" lengthAdjust="spacingAndGlyphs">10</text><text x="441.2" y="580.1" font-size="11.2" font-weight="bold" text-anchor="middle" textLength="13.2" lengthAdjust="spacingAndGlyphs">15</text><text x="474.3" y="580.1" font-size="11.2" font-weight="bold" text-anchor="middle" textLength="13.2" lengthAdjust="spacingAndGlyphs">20</text><text x="507.5" y="580.1" font-size="11.2" font-weight="bold" text-anchor="middle" textLength="13.2" lengthAdjust="spacingAndGlyphs">25</text><text x="540.7" y="580.1" font-size="11.2" font-weight="bold" text-anchor="middle" textLength="13.2" lengthAdjust="spacingAndGlyphs">30</text><text x="348.00" y="599.3" font-size="12" font-weight="bold" textLength="27.50" lengthAdjust="spacingAndGlyphs">Time</text><text x="380.50" y="599.3" font-size="12" font-weight="bold" textLength="25.70" lengthAdjust="spacingAndGlyphs">from</text><text x="411.20" y="599.3" font-size="12" font-weight="bold" textLength="22.10" lengthAdjust="spacingAndGlyphs">first</text><text x="437.60" y="599.3" font-size="12" font-weight="bold" textLength="62.20" lengthAdjust="spacingAndGlyphs">assessment</text><text x="504.40" y="599.3" font-size="12" font-weight="bold" textLength="33.00" lengthAdjust="spacingAndGlyphs">(days)</text><text transform="translate(301.8 485.0) rotate(-90)" font-size="12" font-weight="bold" text-anchor="middle" textLength="75.0" lengthAdjust="spacingAndGlyphs">Albumin (g/L)</text><text x="280.7" y="410.8" font-size="14.5" font-weight="bold">F</text></g>
<g><line x1="69.0" y1="761.1" x2="258.3" y2="761.1" stroke="#1f3f85" stroke-width="1.7" stroke-dasharray="3.9 1.5 1.1 1.7"/><text x="270.4" y="765.3" font-size="11.8" font-weight="bold" fill="#1d3c7c">U</text><path d="M67.8 688.0h0M67.8 692.0h0M67.8 696.0h0M67.8 700.0h0M67.8 704.0h0M67.8 708.0h0M67.8 712.0h0M67.8 716.0h0M67.8 720.0h0M67.8 724.0h0M74.2 709.2h0M74.2 712.2h0M74.2 715.2h0M80.6 701.8h0M80.6 705.9h0M80.6 709.9h0M80.6 714.0h0M93.4 712.4h0M93.4 716.3h0M93.4 720.1h0M93.4 724.0h0M67.8 726.0h0M67.8 730.0h0M67.8 734.0h0M67.8 737.9h0M67.8 741.9h0M67.8 745.9h0M67.8 749.9h0M67.8 753.8h0M67.8 757.8h0M67.8 761.8h0M74.2 726.0h0M74.2 730.0h0M74.2 734.0h0M74.2 737.9h0M74.2 741.9h0M74.2 745.9h0M74.2 749.9h0M74.2 753.8h0M74.2 757.8h0M74.2 761.8h0M80.6 732.5h0M80.6 735.8h0M80.6 739.2h0M80.6 742.5h0M80.6 746.2h0M80.6 750.1h0M80.6 754.0h0M80.6 757.9h0M80.6 761.8h0M87.1 721.9h0M87.1 726.9h0M87.1 732.5h0M87.1 735.8h0M87.1 739.2h0M87.1 742.5h0M87.1 751.2h0M87.1 754.8h0M87.1 758.3h0M87.1 761.8h0M93.5 720.0h0M93.5 723.5h0M93.5 727.1h0M93.5 730.6h0M93.5 736.9h0M93.5 740.3h0M93.5 743.8h0M93.5 753.1h0M93.5 757.5h0M93.5 761.8h0M99.8 737.9h0M99.8 739.5h0M99.8 751.0h0M99.8 755.5h0M99.8 760.1h0M106.2 734.8h0M106.2 739.5h0M106.2 748.5h0M106.2 752.4h0M106.2 756.2h0M106.2 760.1h0" stroke="#000" stroke-width="4.5" stroke-linecap="round" fill="none"/><path d="M112.6 619.8h0M93.4 642.2h0M99.8 649.0h0M106.2 650.9h0M74.2 663.1h0M80.6 666.6h0M93.4 666.2h0M67.8 674.7h0M67.8 677.5h0M67.8 680.9h0M119.1 678.4h0M74.2 680.9h0M74.2 683.1h0M74.2 685.9h0M80.6 683.1h0M67.8 686.9h0M112.6 685.9h0M74.2 691.0h0M74.2 696.6h0M74.2 699.8h0M74.2 723.5h0M80.6 719.8h0M80.6 724.8h0M87.0 689.5h0M87.0 703.5h0M87.0 722.2h0M87.0 724.1h0M93.4 704.1h0M99.8 695.0h0M99.8 702.2h0M99.8 707.2h0M99.8 716.6h0M106.2 695.8h0M106.2 700.4h0M106.2 706.6h0M106.2 715.4h0M106.2 717.9h0M112.6 702.2h0M112.6 717.2h0M112.6 724.1h0M119.1 692.5h0M119.1 708.5h0M119.1 713.5h0M119.1 722.2h0M125.5 708.8h0M125.5 714.8h0M131.9 724.1h0M80.6 720.5h0M80.6 725.6h0M87.1 747.5h0M93.5 748.1h0M99.8 730.2h0M99.8 732.8h0M106.2 729.6h0M112.6 724.6h0M112.6 731.5h0M112.6 735.9h0M112.6 757.1h0M112.6 761.5h0M119.1 727.8h0M119.1 754.0h0M119.1 761.5h0M125.5 738.4h0M125.5 745.9h0M125.5 757.1h0M125.5 761.5h0M131.9 740.2h0M131.9 745.9h0M131.9 754.0h0M138.3 704.8h0M138.3 749.0h0M138.3 761.5h0M144.7 725.2h0M144.7 762.5h0M151.1 744.8h0M151.1 750.2h0M151.1 762.5h0M157.5 706.0h0M157.5 711.9h0M157.5 713.1h0M157.5 723.1h0M157.5 754.0h0M163.9 710.6h0M163.9 760.6h0M170.3 709.4h0M170.3 715.0h0M170.3 761.0h0M176.7 747.5h0M183.1 754.8h0M189.5 713.8h0M189.5 741.0h0M195.9 749.0h0M202.3 733.7h0M215.2 718.1h0M228.0 707.7h0M240.8 741.1h0M221.6 762.3h0" stroke="#000" stroke-width="4.5" stroke-linecap="round" fill="none"/><polyline points="67.6,761.5 67.6,739.0 69.5,736.0 73.9,733.4 105.8,733.2 112.0,731.5 220.5,731.5 227.8,724.2 240.6,724.2" fill="none" stroke="#ff0000" stroke-width="2.0" stroke-linejoin="round"/><path d="M62.8 613.4V767.9H263.9" fill="none" stroke="#707070" stroke-width="1.4"/><path d="M62.8 764.1h4.2M62.8 734.8h4.2M62.8 705.5h4.2M62.8 676.2h4.2M62.8 646.9h4.2M62.8 617.6h4.2M62.8 749.5h2.5M62.8 720.1h2.5M62.8 690.9h2.5M62.8 661.6h2.5M62.8 632.2h2.5M67.2 767.9v-4.2M99.2 767.9v-4.2M131.3 767.9v-4.2M163.3 767.9v-4.2M195.3 767.9v-4.2M227.4 767.9v-4.2M259.4 767.9v-4.2" stroke="#707070" stroke-width="1.3" fill="none"/><text x="57.2" y="768.1" font-size="11.2" font-weight="bold" text-anchor="end" textLength="6.9" lengthAdjust="spacingAndGlyphs">0</text><text x="57.2" y="738.8" font-size="11.2" font-weight="bold" text-anchor="end" textLength="19.5" lengthAdjust="spacingAndGlyphs">100</text><text x="57.2" y="709.5" font-size="11.2" font-weight="bold" text-anchor="end" textLength="19.5" lengthAdjust="spacingAndGlyphs">200</text><text x="57.2" y="680.2" font-size="11.2" font-weight="bold" text-anchor="end" textLength="19.5" lengthAdjust="spacingAndGlyphs">300</text><text x="57.2" y="650.9" font-size="11.2" font-weight="bold" text-anchor="end" textLength="19.5" lengthAdjust="spacingAndGlyphs">400</text><text x="57.2" y="621.6" font-size="11.2" font-weight="bold" text-anchor="end" textLength="19.5" lengthAdjust="spacingAndGlyphs">500</text><text x="67.2" y="784.1" font-size="11.2" font-weight="bold" text-anchor="middle" textLength="6.9" lengthAdjust="spacingAndGlyphs">0</text><text x="99.2" y="784.1" font-size="11.2" font-weight="bold" text-anchor="middle" textLength="6.9" lengthAdjust="spacingAndGlyphs">5</text><text x="131.3" y="784.1" font-size="11.2" font-weight="bold" text-anchor="middle" textLength="13.2" lengthAdjust="spacingAndGlyphs">10</text><text x="163.3" y="784.1" font-size="11.2" font-weight="bold" text-anchor="middle" textLength="13.2" lengthAdjust="spacingAndGlyphs">15</text><text x="195.3" y="784.1" font-size="11.2" font-weight="bold" text-anchor="middle" textLength="13.2" lengthAdjust="spacingAndGlyphs">20</text><text x="227.4" y="784.1" font-size="11.2" font-weight="bold" text-anchor="middle" textLength="13.2" lengthAdjust="spacingAndGlyphs">25</text><text x="259.4" y="784.1" font-size="11.2" font-weight="bold" text-anchor="middle" textLength="13.2" lengthAdjust="spacingAndGlyphs">30</text><text x="70.40" y="803.1" font-size="12" font-weight="bold" textLength="27.50" lengthAdjust="spacingAndGlyphs">Time</text><text x="102.90" y="803.1" font-size="12" font-weight="bold" textLength="25.70" lengthAdjust="spacingAndGlyphs">from</text><text x="133.60" y="803.1" font-size="12" font-weight="bold" textLength="22.10" lengthAdjust="spacingAndGlyphs">first</text><text x="160.00" y="803.1" font-size="12" font-weight="bold" textLength="62.20" lengthAdjust="spacingAndGlyphs">assessment</text><text x="226.80" y="803.1" font-size="12" font-weight="bold" textLength="33.00" lengthAdjust="spacingAndGlyphs">(days)</text><text transform="translate(20.0 689.0) rotate(-90)" font-size="12" font-weight="bold" text-anchor="middle" textLength="142.1" lengthAdjust="spacingAndGlyphs">C-reactive protein (mg/L)</text><text x="0.0" y="610.8" font-size="14.5" font-weight="bold">G</text></g>
<g><line x1="336.0" y1="727.4" x2="541.0" y2="727.4" stroke="#1f3f85" stroke-width="1.7" stroke-dasharray="3.9 1.5 1.1 1.7"/><text x="552.5" y="731.6" font-size="11.8" font-weight="bold" fill="#1d3c7c">U</text><path d="M389.3 619.0h0M382.5 652.6h0M396.2 666.2h0M354.9 671.9h0M354.9 679.9h0M396.2 685.0h0M403.1 685.0h0M334.3 713.4h0M334.3 723.8h0M341.2 698.8h0M341.2 702.5h0M341.2 715.2h0M348.1 712.5h0M348.1 716.2h0M354.9 700.0h0M354.9 703.4h0M354.9 714.0h0M354.9 720.2h0M354.9 722.8h0M361.8 698.8h0M361.8 706.5h0M361.8 712.8h0M361.8 714.6h0M361.8 720.2h0M361.8 722.8h0M368.7 692.8h0M368.7 694.6h0M368.7 700.2h0M368.7 703.4h0M368.7 705.9h0M368.7 708.4h0M368.7 714.0h0M368.7 717.8h0M368.7 720.2h0M368.7 722.8h0M375.6 689.0h0M375.6 697.1h0M375.6 702.8h0M375.6 705.9h0M375.6 709.0h0M375.6 716.5h0M375.6 719.0h0M375.6 721.5h0M382.5 689.0h0M382.5 697.1h0M382.5 699.0h0M382.5 704.0h0M382.5 706.5h0M382.5 712.1h0M382.5 715.2h0M382.5 718.4h0M382.5 722.8h0M389.3 711.5h0M389.3 720.9h0M334.3 729.4h0M334.3 732.5h0M334.3 735.6h0M334.3 738.8h0M334.3 741.2h0M334.3 753.1h0M341.2 724.4h0M341.2 729.4h0M341.2 732.5h0M341.2 736.2h0M341.2 742.2h0M348.1 728.1h0M348.1 745.6h0M354.9 738.1h0M361.8 725.6h0M361.8 728.1h0M361.8 730.0h0M361.8 732.5h0M361.8 735.0h0M361.8 742.2h0M368.7 729.4h0M368.7 734.4h0M375.6 725.6h0M375.6 734.4h0M375.6 736.2h0M382.5 723.8h0M382.5 725.0h0M382.5 733.1h0M396.2 727.5h0M396.2 737.5h0M403.1 691.2h0M403.1 701.5h0M403.1 712.8h0M403.1 721.2h0M403.1 732.1h0M410.0 704.0h0M410.0 712.5h0M410.0 716.8h0M410.0 724.2h0M410.0 732.1h0M416.9 695.0h0M416.9 717.5h0M416.9 733.8h0M423.7 706.2h0M423.7 718.0h0M423.7 724.0h0M423.7 735.2h0M423.7 739.0h0M430.6 707.5h0M430.6 736.5h0M437.5 723.0h0M444.4 710.2h0M444.4 714.0h0M444.4 727.1h0M458.1 718.4h0M465.0 732.8h0M492.5 730.7h0M520.1 730.7h0" stroke="#000" stroke-width="4.5" stroke-linecap="round" fill="none"/><polyline points="333.6,735.5 341.1,721.6 348.6,721.6 355.2,716.2 369.2,715.8 375.8,712.4 519.8,712.4" fill="none" stroke="#ff0000" stroke-width="2.0" stroke-linejoin="round"/><path d="M329.2 613.4V767.9H545.5" fill="none" stroke="#707070" stroke-width="1.4"/><path d="M329.2 764.6h4.2M329.2 740.1h4.2M329.2 715.6h4.2M329.2 691.1h4.2M329.2 666.6h4.2M329.2 642.1h4.2M329.2 617.6h4.2M329.2 752.4h2.5M329.2 727.9h2.5M329.2 703.4h2.5M329.2 678.9h2.5M329.2 654.4h2.5M329.2 629.9h2.5M334.3 767.9v-4.2M368.7 767.9v-4.2M403.1 767.9v-4.2M437.5 767.9v-4.2M471.9 767.9v-4.2M506.3 767.9v-4.2M540.7 767.9v-4.2" stroke="#707070" stroke-width="1.3" fill="none"/><text x="323.6" y="768.6" font-size="11.2" font-weight="bold" text-anchor="end" textLength="6.9" lengthAdjust="spacingAndGlyphs">0</text><text x="323.6" y="744.1" font-size="11.2" font-weight="bold" text-anchor="end" textLength="6.9" lengthAdjust="spacingAndGlyphs">1</text><text x="323.6" y="719.6" font-size="11.2" font-weight="bold" text-anchor="end" textLength="6.9" lengthAdjust="spacingAndGlyphs">2</text><text x="323.6" y="695.1" font-size="11.2" font-weight="bold" text-anchor="end" textLength="6.9" lengthAdjust="spacingAndGlyphs">3</text><text x="323.6" y="670.6" font-size="11.2" font-weight="bold" text-anchor="end" textLength="6.9" lengthAdjust="spacingAndGlyphs">4</text><text x="323.6" y="646.1" font-size="11.2" font-weight="bold" text-anchor="end" textLength="6.9" lengthAdjust="spacingAndGlyphs">5</text><text x="323.6" y="621.6" font-size="11.2" font-weight="bold" text-anchor="end" textLength="6.9" lengthAdjust="spacingAndGlyphs">6</text><text x="334.3" y="784.1" font-size="11.2" font-weight="bold" text-anchor="middle" textLength="6.9" lengthAdjust="spacingAndGlyphs">0</text><text x="368.7" y="784.1" font-size="11.2" font-weight="bold" text-anchor="middle" textLength="6.9" lengthAdjust="spacingAndGlyphs">5</text><text x="403.1" y="784.1" font-size="11.2" font-weight="bold" text-anchor="middle" textLength="13.2" lengthAdjust="spacingAndGlyphs">10</text><text x="437.5" y="784.1" font-size="11.2" font-weight="bold" text-anchor="middle" textLength="13.2" lengthAdjust="spacingAndGlyphs">15</text><text x="471.9" y="784.1" font-size="11.2" font-weight="bold" text-anchor="middle" textLength="13.2" lengthAdjust="spacingAndGlyphs">20</text><text x="506.3" y="784.1" font-size="11.2" font-weight="bold" text-anchor="middle" textLength="13.2" lengthAdjust="spacingAndGlyphs">25</text><text x="540.7" y="784.1" font-size="11.2" font-weight="bold" text-anchor="middle" textLength="13.2" lengthAdjust="spacingAndGlyphs">30</text><text x="344.30" y="803.1" font-size="12" font-weight="bold" textLength="27.50" lengthAdjust="spacingAndGlyphs">Time</text><text x="376.80" y="803.1" font-size="12" font-weight="bold" textLength="25.70" lengthAdjust="spacingAndGlyphs">from</text><text x="407.50" y="803.1" font-size="12" font-weight="bold" textLength="22.10" lengthAdjust="spacingAndGlyphs">first</text><text x="433.90" y="803.1" font-size="12" font-weight="bold" textLength="62.20" lengthAdjust="spacingAndGlyphs">assessment</text><text x="500.70" y="803.1" font-size="12" font-weight="bold" textLength="33.00" lengthAdjust="spacingAndGlyphs">(days)</text><text transform="translate(301.8 689.5) rotate(-90)" font-size="12" font-weight="bold" text-anchor="middle" textLength="101.1" lengthAdjust="spacingAndGlyphs">Triglycerides (g/L)</text><text x="280.7" y="610.8" font-size="14.5" font-weight="bold">H</text></g>
</svg></body></html>
